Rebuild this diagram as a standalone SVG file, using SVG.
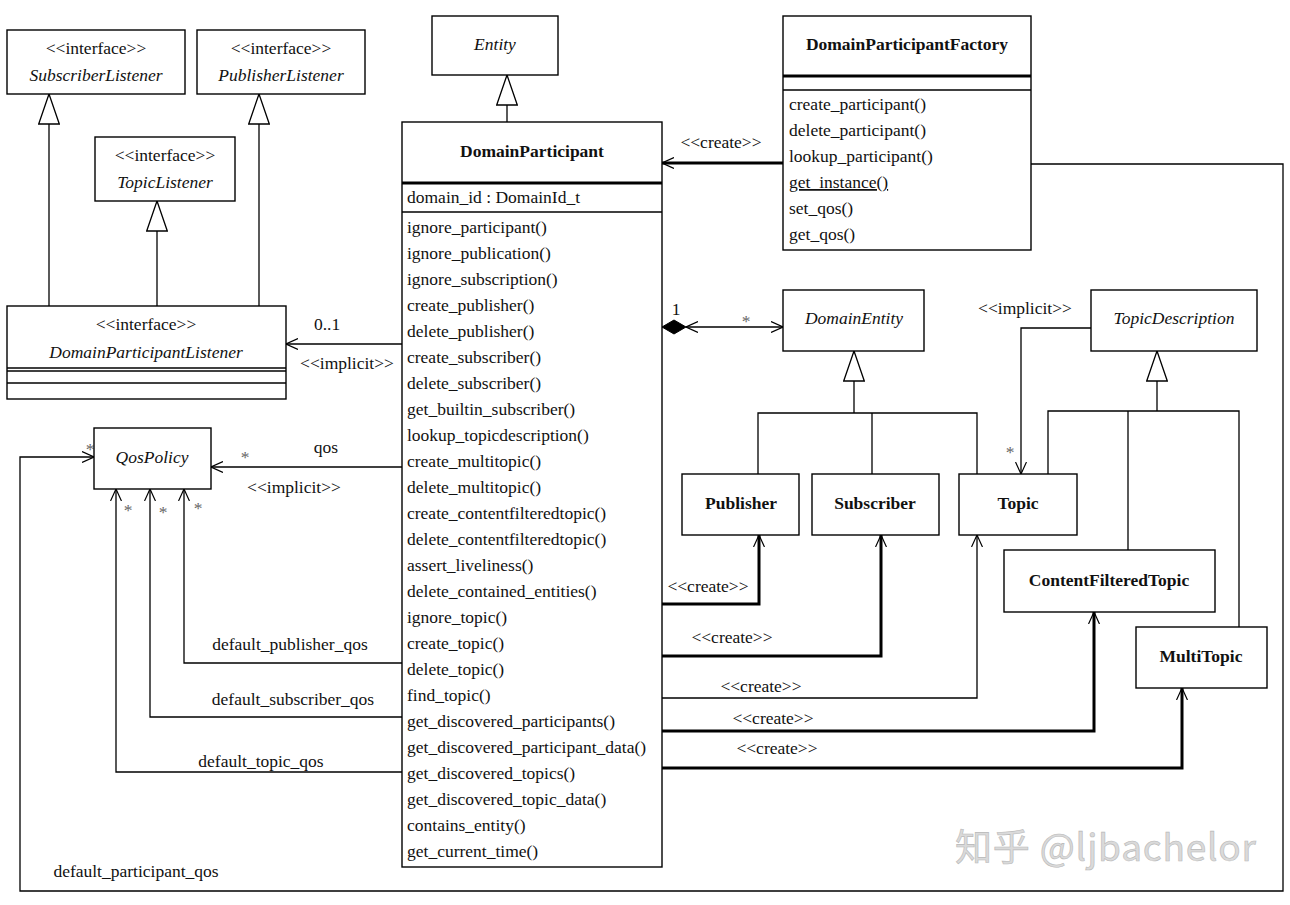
<svg xmlns="http://www.w3.org/2000/svg" width="1290" height="905" viewBox="0 0 1290 905">
<style>
.bx{fill:#fff;stroke:#000;stroke-width:1.4}
.dv{stroke:#000;stroke-width:1.3}
.dvt{stroke:#000;stroke-width:3}
text{font-family:"Liberation Serif","Times New Roman",serif;font-size:17.5px;fill:#111}
.b{font-weight:bold}
.i{font-style:italic}
.m{text-anchor:middle}
.st{fill:#666}
.ln{fill:none;stroke:#000;stroke-width:1.3}
.tk{fill:none;stroke:#000;stroke-width:3}
.wm{font-family:"Noto Sans CJK SC","Noto Sans",sans-serif;font-size:37px;letter-spacing:0.8px;fill:#dadada;stroke:#b8b8b8;stroke-width:0.6}
</style>
<defs>
<marker id="op" viewBox="0 0 12 12" refX="12" refY="6" markerWidth="12" markerHeight="12" markerUnits="userSpaceOnUse" orient="auto-start-reverse"><path d="M0,0.5 L12,6 L0,11.5" fill="none" stroke="#000" stroke-width="1.2"/></marker>
<marker id="gen" viewBox="0 0 32 22" refX="31" refY="11" markerWidth="32" markerHeight="22" markerUnits="userSpaceOnUse" orient="auto"><path d="M1,0.7 L31,11 L1,21.3 Z" fill="#fff" stroke="#000" stroke-width="1.3"/></marker>
</defs>
<rect width="1290" height="905" fill="#fff"/>

<g id="connectors">
<path class="ln" d="M507,122 V75" marker-end="url(#gen)"/>
<path class="ln" d="M49,306 V94" marker-end="url(#gen)"/>
<path class="ln" d="M259,306 V94" marker-end="url(#gen)"/>
<path class="ln" d="M157,306 V201" marker-end="url(#gen)"/>
<path class="tk" d="M783,163 H662" marker-end="url(#op)"/>
<path class="ln" d="M1031,164 H1283 V891 H20 V457 H94" marker-end="url(#op)"/>
<path class="ln" d="M402,344 H286" marker-end="url(#op)"/>
<path class="ln" d="M402,467 H211" marker-end="url(#op)"/>
<path class="ln" d="M402,663 H184 V489" marker-end="url(#op)"/>
<path class="ln" d="M402,717 H150 V489" marker-end="url(#op)"/>
<path class="ln" d="M402,772 H116 V489" marker-end="url(#op)"/>
<polygon points="662,327 674,320 686,327 674,334" fill="#000" stroke="#000" stroke-width="1"/>
<path class="ln" d="M686,327 H783" marker-start="url(#op)" marker-end="url(#op)"/>
<path class="ln" d="M854,413 V351" marker-end="url(#gen)"/>
<path class="ln" d="M758,474 V413 H977 V474"/>
<path class="ln" d="M872,413 V474"/>
<path class="ln" d="M1157,411 V351" marker-end="url(#gen)"/>
<path class="ln" d="M1048,474 V411 H1239 V627"/>
<path class="ln" d="M1128,411 V550"/>
<path class="ln" d="M1091,328 H1021 V474" marker-end="url(#op)"/>
<path class="tk" d="M662,604 H759 V535" marker-end="url(#op)"/>
<path class="tk" d="M662,656 H881 V535" marker-end="url(#op)"/>
<path class="ln" d="M662,698 H977 V535" marker-end="url(#op)"/>
<path class="tk" d="M662,731 H1094 V612" marker-end="url(#op)"/>
<path class="tk" d="M662,768 H1182 V688" marker-end="url(#op)"/>
<text class="m" x="721" y="148">&lt;&lt;create&gt;&gt;</text>
<text class="m" x="327" y="330">0..1</text>
<text class="m" x="347" y="369">&lt;&lt;implicit&gt;&gt;</text>
<text class="m st" x="90" y="455">*</text>
<text class="m st" x="245" y="463">*</text>
<text class="m" x="326" y="453">qos</text>
<text class="m" x="294" y="493">&lt;&lt;implicit&gt;&gt;</text>
<text class="m st" x="128" y="516">*</text>
<text class="m st" x="163" y="518">*</text>
<text class="m st" x="198" y="514">*</text>
<text class="m" x="290" y="650">default_publisher_qos</text>
<text class="m" x="293" y="705">default_subscriber_qos</text>
<text class="m" x="261" y="767">default_topic_qos</text>
<text class="m" x="136" y="877">default_participant_qos</text>
<text class="m" x="676" y="315">1</text>
<text class="m st" x="746" y="327">*</text>
<text class="m" x="1025" y="314">&lt;&lt;implicit&gt;&gt;</text>
<text class="m st" x="1010" y="458">*</text>
<text class="m" x="708" y="592">&lt;&lt;create&gt;&gt;</text>
<text class="m" x="732" y="643">&lt;&lt;create&gt;&gt;</text>
<text class="m" x="761" y="692">&lt;&lt;create&gt;&gt;</text>
<text class="m" x="773" y="724">&lt;&lt;create&gt;&gt;</text>
<text class="m" x="777" y="754">&lt;&lt;create&gt;&gt;</text>
</g>

<g id="Entity">
<rect class="bx" x="432" y="16" width="126" height="59"/>
<text class="i m" x="495" y="50">Entity</text>
</g>

<g id="SubscriberListener">
<rect class="bx" x="7" y="30" width="178" height="64"/>
<text class="m" x="96" y="54">&lt;&lt;interface&gt;&gt;</text>
<text class="i m" x="96" y="81">SubscriberListener</text>
</g>

<g id="PublisherListener">
<rect class="bx" x="197" y="30" width="168" height="64"/>
<text class="m" x="281" y="54">&lt;&lt;interface&gt;&gt;</text>
<text class="i m" x="281" y="81">PublisherListener</text>
</g>

<g id="TopicListener">
<rect class="bx" x="95" y="137" width="140" height="64"/>
<text class="m" x="165" y="161">&lt;&lt;interface&gt;&gt;</text>
<text class="i m" x="165" y="188">TopicListener</text>
</g>

<g id="DomainParticipantListener">
<rect class="bx" x="7" y="306" width="279" height="93"/>
<text class="m" x="146" y="330">&lt;&lt;interface&gt;&gt;</text>
<text class="i m" x="146" y="358">DomainParticipantListener</text>
<line class="dv" x1="7" y1="368" x2="286" y2="368"/>
<line class="dv" x1="7" y1="371" x2="286" y2="371"/>
<line class="dv" x1="7" y1="383" x2="286" y2="383"/>
</g>

<g id="QosPolicy">
<rect class="bx" x="94" y="428" width="117" height="61"/>
<text class="i m" x="152" y="463">QosPolicy</text>
</g>

<g id="DomainParticipant">
<rect class="bx" x="402" y="122" width="260" height="745"/>
<text class="b m" x="532" y="157">DomainParticipant</text>
<line class="dvt" x1="402" y1="183" x2="662" y2="183"/>
<text x="407" y="203">domain_id : DomainId_t</text>
<line class="dv" x1="402" y1="212" x2="662" y2="212"/>
<text x="407" y="233">ignore_participant()</text>
<text x="407" y="259">ignore_publication()</text>
<text x="407" y="285">ignore_subscription()</text>
<text x="407" y="311">create_publisher()</text>
<text x="407" y="337">delete_publisher()</text>
<text x="407" y="363">create_subscriber()</text>
<text x="407" y="389">delete_subscriber()</text>
<text x="407" y="415">get_builtin_subscriber()</text>
<text x="407" y="441">lookup_topicdescription()</text>
<text x="407" y="467">create_multitopic()</text>
<text x="407" y="493">delete_multitopic()</text>
<text x="407" y="519">create_contentfilteredtopic()</text>
<text x="407" y="545">delete_contentfilteredtopic()</text>
<text x="407" y="571">assert_liveliness()</text>
<text x="407" y="597">delete_contained_entities()</text>
<text x="407" y="623">ignore_topic()</text>
<text x="407" y="649">create_topic()</text>
<text x="407" y="675">delete_topic()</text>
<text x="407" y="701">find_topic()</text>
<text x="407" y="727">get_discovered_participants()</text>
<text x="407" y="753">get_discovered_participant_data()</text>
<text x="407" y="779">get_discovered_topics()</text>
<text x="407" y="805">get_discovered_topic_data()</text>
<text x="407" y="831">contains_entity()</text>
<text x="407" y="857">get_current_time()</text>
</g>

<g id="DomainParticipantFactory">
<rect class="bx" x="783" y="16" width="248" height="234"/>
<text class="b m" x="907" y="50">DomainParticipantFactory</text>
<line class="dvt" x1="783" y1="76" x2="1031" y2="76"/>
<line class="dv" x1="783" y1="90" x2="1031" y2="90"/>
<text x="789" y="110">create_participant()</text>
<text x="789" y="136">delete_participant()</text>
<text x="789" y="162">lookup_participant()</text>
<text x="789" y="188" text-decoration="underline">get_instance()</text>
<text x="789" y="214">set_qos()</text>
<text x="789" y="240">get_qos()</text>
</g>

<g id="DomainEntity">
<rect class="bx" x="783" y="290" width="141" height="61"/>
<text class="i m" x="854" y="324">DomainEntity</text>
</g>

<g id="TopicDescription">
<rect class="bx" x="1091" y="290" width="166" height="61"/>
<text class="i m" x="1174" y="324">TopicDescription</text>
</g>

<g id="Publisher">
<rect class="bx" x="682" y="474" width="117" height="61"/>
<text class="b m" x="741" y="509">Publisher</text>
</g>

<g id="Subscriber">
<rect class="bx" x="812" y="474" width="127" height="61"/>
<text class="b m" x="875" y="509">Subscriber</text>
</g>

<g id="Topic">
<rect class="bx" x="959" y="474" width="118" height="61"/>
<text class="b m" x="1018" y="509">Topic</text>
</g>

<g id="ContentFilteredTopic">
<rect class="bx" x="1004" y="550" width="211" height="62"/>
<text class="b m" x="1109" y="586">ContentFilteredTopic</text>
</g>

<g id="MultiTopic">
<rect class="bx" x="1136" y="627" width="131" height="61"/>
<text class="b m" x="1201" y="662">MultiTopic</text>
</g>

<text class="wm" x="955" y="861">知乎 @ljbachelor</text>
</svg>
